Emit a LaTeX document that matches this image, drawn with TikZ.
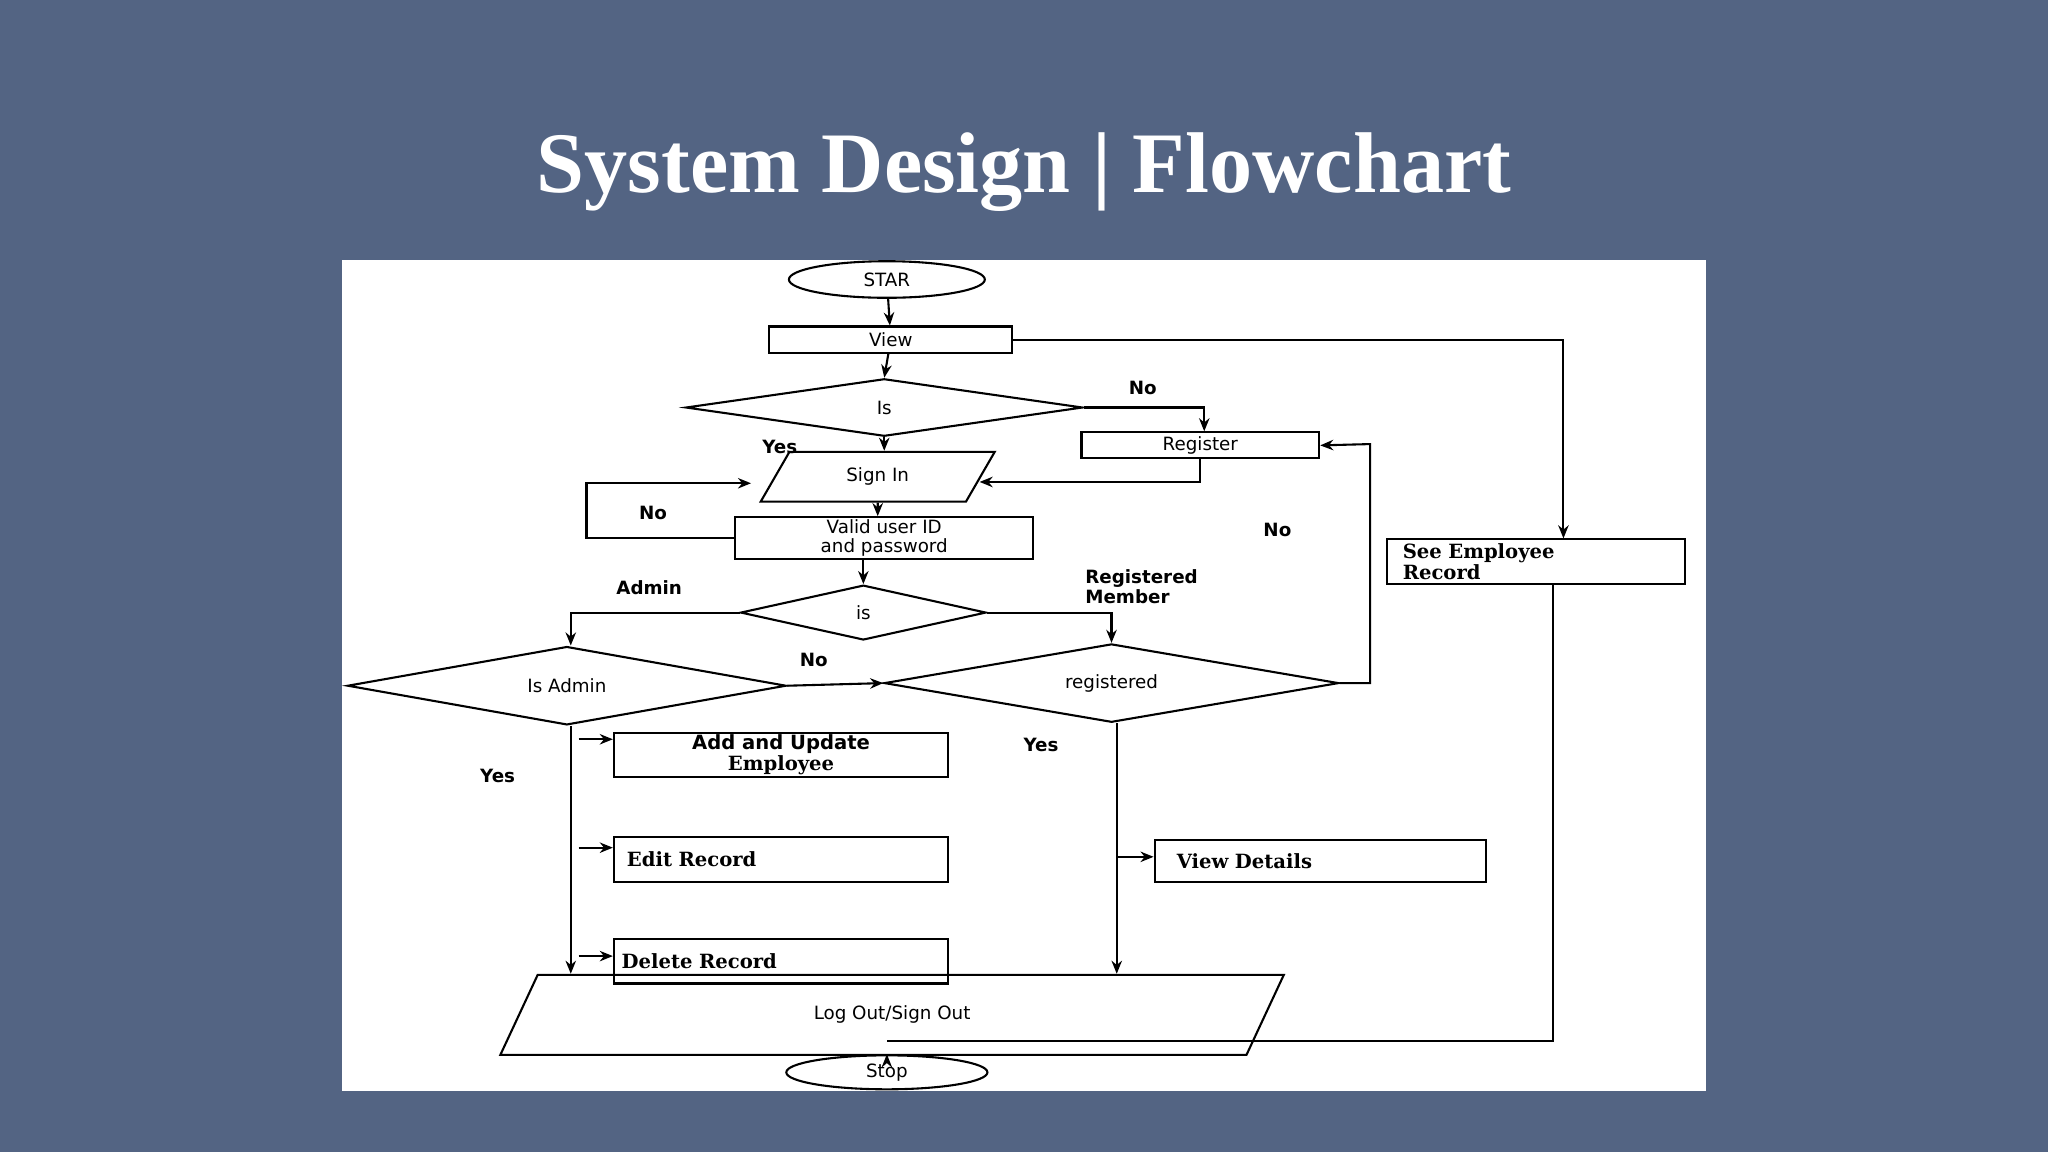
\documentclass[tikz,border=0pt]{standalone}
\usepackage{fontspec}
\setmainfont{Liberation Serif}
\newfontfamily\sansf{DejaVu Sans}
\newfontfamily\slabf{DejaVu Serif}
\usetikzlibrary{shapes.geometric,arrows.meta}
\definecolor{bg}{HTML}{536483}
\begin{document}
\begin{tikzpicture}[x=0.5pt,y=-0.5pt,
  every node/.style={inner sep=0pt},
  txt/.style={font=\sansf\fontsize{7}{7.5}\selectfont},
  lab/.style={font=\sansf\bfseries\fontsize{7}{7.5}\selectfont,align=left},
  slab/.style={font=\slabf\bfseries\fontsize{7.5}{7}\selectfont,align=left},
  box/.style={draw,line width=0.8pt,minimum height=#1},
  dia/.style={draw,diamond,aspect=7,line width=0.8pt},
  para/.style={draw,trapezium,trapezium left angle=60,trapezium right angle=120,line width=0.8pt},
  ell/.style={draw,ellipse,line width=0.8pt},
  ar/.style={-{Stealth[length=5pt,width=4pt]},line width=0.8pt},
  ln/.style={line width=0.8pt}]
\useasboundingbox (0,0) rectangle (1568,882);
\fill[bg] (0,0) rectangle (1568,882);
\node[text=white,font=\bfseries\fontsize{33}{36}\selectfont] (title) at (784,132) {System Design | Flowchart};
\fill[white] (262,199) rectangle (1306,835);

\node[ell,minimum width=75pt,minimum height=14pt,txt] (star) at (679,214) {STAR};
\node[box=10pt,minimum width=93pt,txt] (view) at (682,260) {View};
\node[dia,minimum width=152pt,minimum height=22pt,txt] (is1) at (677,312) {Is};
\node[box=10pt,minimum width=91pt,txt] (reg) at (919,341) {Register};
\node[para,minimum width=90pt,minimum height=10pt,txt] (sign) at (672,365) {Sign In};
\node[box=16pt,minimum width=114pt,txt,align=center] (valid) at (677,412) {Valid user ID\\and password};
\node[dia,minimum width=94pt,minimum height=21pt,txt] (is2) at (661,469) {is};
\node[dia,minimum width=168pt,minimum height=30pt,txt] (adm) at (434,525) {Is Admin};
\node[dia,minimum width=174pt,minimum height=30pt,txt] (regd) at (851,523) {registered};
\node[box=17pt,minimum width=128pt,slab,align=center] (add) at (598,578) {\sansf Add and Update\\Employee};
\node[box=17pt,minimum width=128pt,slab,text width=118pt] (edit) at (598,658) {Edit Record};
\node[box=17pt,minimum width=128pt,slab,text width=122pt] (del) at (598,736) {Delete Record};
\node[box=16pt,minimum width=127pt,slab,text width=110pt] (vd) at (1011,659) {View Details};
\node[box=17pt,minimum width=114pt,slab,text width=102pt] (see) at (1176,430) {See Employee\\Record};
\node[draw,ln,trapezium,trapezium left angle=65,trapezium right angle=115,minimum width=300pt,minimum height=13.5pt,txt] (lo) at (683,777) {Log Out/Sign Out};
\node[ell,minimum width=77pt,minimum height=13pt,txt] (stop) at (679,821) {Stop};

\coordinate (c1) at (1197,260);
\coordinate (c2) at (922,312);
\coordinate (c3) at (919,369);
\coordinate (c4) at (449,412);
\coordinate (c5) at (449,370);
\coordinate (c6) at (437,469);
\coordinate (c7) at (851,469);
\coordinate (c8) at (1049,523);
\coordinate (c9) at (1049,340);
\coordinate (c10) at (1189,797);
\coordinate (c11) at (679,797);
\coordinate (b1) at (443,566);
\coordinate (b2) at (443,649);
\coordinate (b3) at (443,732);
\coordinate (b4) at (855,656);

\draw[ar] (star) -- (view);
\draw[ar] (view.east) -- (c1) -- (see.north -| c1);
\draw[ar] (view) -- (is1.north);
\draw[ar] (is1.east) -- (c2) -- (reg.north -| c2);
\draw[ar] (is1.south) -- (sign.north -| is1.south);
\draw[ar] (reg.south) -- (c3) -- (750,369);
\draw[ar] (sign) -- (valid.north -| sign);
\draw[ar] (valid.west) -- (c4) -- (c5) -- (575,370);
\draw[ar] (valid.south -| is2) -- (is2.north);
\draw[ar] (is2.west) -- (c6) -- (adm.north -| c6);
\draw[ar] (is2.east) -- (c7) -- (regd.north -| c7);
\draw[ar] (adm.east) -- (regd.west);
\draw[ar] (regd.east) -- (c8) -- (c9) -- (reg.east);
\draw[ar] (adm.south -| 437,0) -- (lo.north -| 437,0);
\draw[ar] (b1) -- (add.west |- b1);
\draw[ar] (b2) -- (edit.west |- b2);
\draw[ar] (b3) -- (del.west |- b3);
\draw[ar] (regd.south -| 855,0) -- (lo.north -| 855,0);
\draw[ar] (b4) -- (vd.west |- b4);
\draw[ln] (see.south -| c10) -- (c10) -- (c11);
\draw[ar] (lo.south -| c11) -- (stop.north);

\node[lab] (l1) at (875,297) {No};
\node[lab] (l2) at (597,342) {Yes};
\node[lab] (l3) at (500,393) {No};
\node[lab] (l4) at (497,450) {Admin};
\node[lab] (l5) at (874,449) {Registered\\Member};
\node[lab] (l6) at (623,505) {No};
\node[lab] (l7) at (978,406) {No};
\node[lab] (l8) at (381,594) {Yes};
\node[lab] (l9) at (797,570) {Yes};
\end{tikzpicture}
\end{document}
